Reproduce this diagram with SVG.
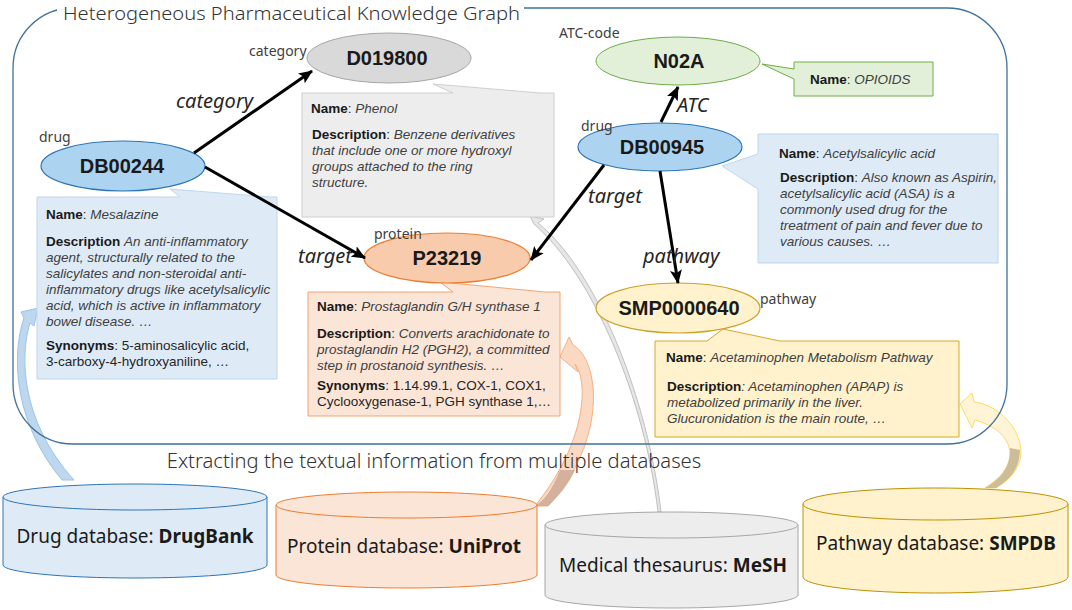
<svg xmlns="http://www.w3.org/2000/svg" width="1072" height="610" viewBox="0 0 1072 610">
<defs>
<style>
.t{font-family:"Liberation Sans",Arial,sans-serif;font-size:13.5px;fill:#262626}
.b{font-weight:bold;font-style:normal;fill:#1a1a1a}
.i{font-style:italic;fill:#404040}
.nl{font-family:"Liberation Sans",Arial,sans-serif;font-weight:bold;font-size:20px;text-anchor:middle;fill:#1a1a1a}
.tl{font-family:"Noto Sans","DejaVu Sans",sans-serif;font-size:14px;fill:#404040}
.el{font-family:"Noto Sans","DejaVu Sans",sans-serif;font-style:italic;font-size:20px;fill:#262626}
.db{font-family:"Noto Sans","DejaVu Sans",sans-serif;font-size:19px;fill:#1a1a1a;text-anchor:middle}
.hd{font-family:"Noto Sans","DejaVu Sans",sans-serif;font-size:19px;fill:#333;font-weight:300}
.edge{stroke:#000;stroke-width:3;fill:none;marker-end:url(#ah)}
</style>
<marker id="ah" markerUnits="userSpaceOnUse" markerWidth="14" markerHeight="12" refX="13" refY="6" orient="auto">
<path d="M0,0 L14,6 L0,12 L3,6 Z" fill="#000"/>
</marker>
</defs>
<rect width="1072" height="610" fill="#fff"/>

<g id="ribbons">
<path d="M38,308 L34,326 L30,323 C20,355 20,420 74,480 L62,480 C12,420 12,352 24,318 L21,312 Z" fill="#bdd7ee" stroke="#9dc3e6" stroke-width="1"/>
<path d="M560,357 L569,337 L573,345 C600,360 608,440 548,506 L535,506 C588,440 588,380 575,364 L578,372 Z" fill="#f8cbad" fill-opacity="0.75" stroke="#f4b183" stroke-width="1"/>
<path d="M560,470 C552,490 545,500 535,506 L548,506 C560,495 568,485 575,470 Z" fill="#c9a892" fill-opacity="0.8"/>
<path d="M530,216 L544,219 L538,223 C598,272 648,400 661,512 L658,512 C645,400 594,276 534,224 Z" fill="#e7e6e6" stroke="#bfbfbf" stroke-width="1"/>
<path d="M960,404 L972,393 L974,402 C1000,405 1022,430 1021,455 C1019,472 1006,482 996,488 L985,488 C1000,478 1010,468 1010,452 C1008,436 995,426 975,420 L972,428 Z" fill="#fff2cc" fill-opacity="0.8" stroke="#ffd966" stroke-width="1"/>
<path d="M1010,448 C1011,466 1002,478 985,488 L996,488 C1010,480 1020,468 1020,450 Z" fill="#cbbd98"/>
</g>

<rect id="frame" x="13" y="8" width="994" height="436" rx="60" ry="60" fill="none" stroke="#41719c" stroke-width="1.3"/>
<rect x="57" y="0" width="467" height="22" fill="#fff"/>
<text class="hd" x="63" y="20" textLength="457" lengthAdjust="spacingAndGlyphs">Heterogeneous Pharmaceutical Knowledge Graph</text>

<g id="node-D019800">
<path d="M302,93 L453,93 L433,84 L540,93 L554,93 L554,217 L302,217 Z" fill="#ededed" stroke="#d0cece" stroke-width="1"/>
<ellipse cx="389" cy="58" rx="82" ry="25" fill="#d9d9d9" stroke="#a6a6a6" stroke-width="1"/>
<text class="nl" x="387" y="65">D019800</text>
<text class="tl" x="249" y="56">category</text>
<text class="t" x="311" y="113"><tspan class="b">Name</tspan>: <tspan class="i">Phenol</tspan></text>
<text class="t" x="312" y="139"><tspan class="b">Description</tspan>: <tspan class="i">Benzene derivatives</tspan></text>
<text class="t i" x="312" y="155">that include one or more hydroxyl</text>
<text class="t i" x="312" y="171">groups attached to the ring</text>
<text class="t i" x="312" y="187">structure.</text>
</g>

<g id="node-DB00244">
<path d="M37,197 L180,197 L170,189 L270,197 L277,197 L277,379 L37,379 Z" fill="#deebf7" stroke="#bdd7ee" stroke-width="1"/>
<ellipse cx="123" cy="166" rx="82" ry="25" fill="#acd3f0" stroke="#2e75b6" stroke-width="1.2"/>
<text class="nl" x="122" y="173">DB00244</text>
<text class="tl" x="39" y="142">drug</text>
<text class="t" x="46" y="219"><tspan class="b">Name</tspan>: <tspan class="i">Mesalazine</tspan></text>
<text class="t" x="46" y="246"><tspan class="b">Description</tspan> <tspan class="i">An anti-inflammatory</tspan></text>
<text class="t i" x="46" y="262">agent, structurally related to the</text>
<text class="t i" x="46" y="278">salicylates and non-steroidal anti-</text>
<text class="t i" x="46" y="294">inflammatory drugs like acetylsalicylic</text>
<text class="t i" x="46" y="310">acid, which is active in inflammatory</text>
<text class="t i" x="46" y="326">bowel disease. …</text>
<text class="t" x="46" y="350"><tspan class="b">Synonyms</tspan>: 5-aminosalicylic acid,</text>
<text class="t" x="46" y="366">3-carboxy-4-hydroxyaniline, …</text>
</g>

<g id="node-P23219">
<path d="M308,292 L453,292 L440,282 L545,292 L560,292 L560,416 L308,416 Z" fill="#fbe5d6" stroke="#f4a470" stroke-width="1"/>
<ellipse cx="447" cy="258" rx="83" ry="25" fill="#f8cbad" stroke="#ed7d31" stroke-width="1.2"/>
<text class="nl" x="447" y="265">P23219</text>
<text class="tl" x="374" y="239">protein</text>
<text class="t" x="317" y="311"><tspan class="b">Name</tspan>: <tspan class="i">Prostaglandin G/H synthase 1</tspan></text>
<text class="t" x="317" y="338"><tspan class="b">Description</tspan>: <tspan class="i">Converts arachidonate to</tspan></text>
<text class="t i" x="317" y="354">prostaglandin H2 (PGH2), a committed</text>
<text class="t i" x="317" y="370">step in prostanoid synthesis. …</text>
<text class="t" x="317" y="390"><tspan class="b">Synonyms</tspan>: 1.14.99.1, COX-1, COX1,</text>
<text class="t" x="317" y="406">Cyclooxygenase-1, PGH synthase 1,…</text>
</g>

<g id="node-N02A">
<path d="M794,62 L933,62 L933,96 L794,96 L794,79 L762,64 L794,69 Z" fill="#e2f0d9" stroke="#70ad47" stroke-width="1"/>
<ellipse cx="678" cy="61" rx="82" ry="24" fill="#e2f0d9" stroke="#70ad47" stroke-width="1"/>
<text class="nl" x="679" y="68">N02A</text>
<text class="tl" x="559" y="38">ATC-code</text>
<text class="t" x="810" y="84"><tspan class="b">Name</tspan>: <tspan class="i">OPIOIDS</tspan></text>
</g>

<g id="node-DB00945">
<path d="M758,134 L998,134 L998,263 L758,263 L758,189 L722,166 L758,154 Z" fill="#deebf7" stroke="#bdd7ee" stroke-width="1"/>
<ellipse cx="660" cy="147" rx="82" ry="24" fill="#acd3f0" stroke="#2e75b6" stroke-width="1.2"/>
<text class="nl" x="662" y="154">DB00945</text>
<text class="tl" x="581" y="131">drug</text>
<text class="t" x="779" y="158"><tspan class="b">Name</tspan>: <tspan class="i">Acetylsalicylic acid</tspan></text>
<text class="t" x="780" y="182"><tspan class="b">Description</tspan>: <tspan class="i">Also known as Aspirin,</tspan></text>
<text class="t i" x="780" y="198">acetylsalicylic acid (ASA) is a</text>
<text class="t i" x="780" y="214">commonly used drug for the</text>
<text class="t i" x="780" y="230">treatment of pain and fever due to</text>
<text class="t i" x="780" y="246">various causes. …</text>
</g>

<g id="node-SMP0000640">
<path d="M655,341 L707,341 L723,329 L780,341 L959,341 L959,437 L655,437 Z" fill="#fff2cc" stroke="#d4a92a" stroke-width="1"/>
<ellipse cx="678" cy="308" rx="82" ry="25" fill="#fff2cc" stroke="#c9a227" stroke-width="1.2"/>
<text class="nl" x="679" y="315">SMP0000640</text>
<text class="tl" x="760" y="304">pathway</text>
<text class="t" x="666" y="362"><tspan class="b">Name</tspan>: <tspan class="i">Acetaminophen Metabolism Pathway</tspan></text>
<text class="t" x="667" y="391"><tspan class="b">Description</tspan><tspan class="i">: Acetaminophen (APAP) is</tspan></text>
<text class="t i" x="667" y="407">metabolized primarily in the liver.</text>
<text class="t i" x="667" y="423">Glucuronidation is the main route, …</text>
</g>

<g id="connectors">
<path class="edge" d="M194,153 L312,71"/>
<path class="edge" d="M205,167 L365,258"/>
<path class="edge" d="M604,165 L531,260"/>
<path class="edge" d="M661,122 L678,87"/>
<path class="edge" d="M660,171 L678,283"/>
<text class="el" x="176" y="108">category</text>
<text class="el" x="298" y="263">target</text>
<text class="el" x="588" y="203">target</text>
<text class="el" x="677" y="112">ATC</text>
<text class="el" x="643" y="263">pathway</text>
</g>

<text class="db" x="434" y="468" style="font-weight:300;fill:#333;font-size:20.2px">Extracting the textual information from multiple databases</text>

<g id="db-DrugBank">
<path d="M3,497 L3,565 A132,13 0 0 0 267,565 L267,497 Z" fill="#deebf7" stroke="#2e75b6" stroke-width="1"/>
<ellipse cx="135" cy="497" rx="132" ry="13" fill="#deebf7" stroke="#2e75b6" stroke-width="1"/>
<text class="db" x="135" y="543">Drug database: <tspan font-weight="bold">DrugBank</tspan></text>
</g>
<g id="db-UniProt">
<path d="M276,505 L276,575 A130.5,13 0 0 0 537,575 L537,505 Z" fill="#fbe5d6" stroke="#ed7d31" stroke-width="1"/>
<ellipse cx="406.5" cy="505" rx="130.5" ry="13" fill="#fbe5d6" stroke="#ed7d31" stroke-width="1"/>
<text class="db" x="404" y="553">Protein database: <tspan font-weight="bold">UniProt</tspan></text>
</g>
<g id="db-MeSH">
<path d="M545,525 L545,595 A126.5,13 0 0 0 798,595 L798,525 Z" fill="#ededed" stroke="#a6a6a6" stroke-width="1"/>
<ellipse cx="671.5" cy="525" rx="126.5" ry="13" fill="#ededed" stroke="#a6a6a6" stroke-width="1"/>
<text class="db" x="673" y="572">Medical thesaurus: <tspan font-weight="bold">MeSH</tspan></text>
</g>
<g id="db-SMPDB">
<path d="M803,504 L803,577 A132.5,16 0 0 0 1068,577 L1068,504 Z" fill="#fff2cc" stroke="#bf9000" stroke-width="1"/>
<ellipse cx="935.5" cy="504" rx="132.5" ry="16" fill="#fff2cc" stroke="#bf9000" stroke-width="1"/>
<text class="db" x="936" y="550">Pathway database: <tspan font-weight="bold">SMPDB</tspan></text>
</g>
</svg>
